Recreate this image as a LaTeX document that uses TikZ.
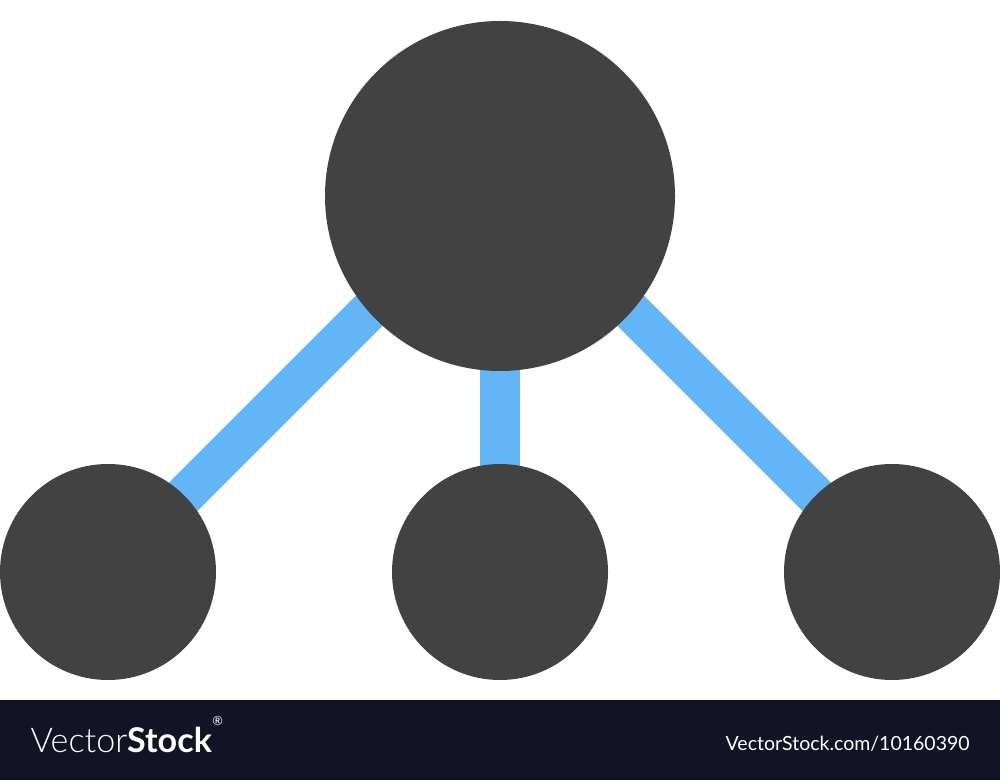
\documentclass[tikz,border=0pt]{standalone}
\usepackage{fontspec}
\setmainfont{Lato}
\definecolor{nodegray}{HTML}{424242}
\definecolor{linkblue}{HTML}{64B5F6}
\definecolor{bandnavy}{HTML}{121324}
\begin{document}
\begin{tikzpicture}[
  hub/.style={circle, fill=nodegray, minimum size=3.5cm, inner sep=0pt},
  leaf/.style={circle, fill=nodegray, minimum size=2.16cm, inner sep=0pt},
  link/.style={linkblue, line width=0.4cm},
  logo/.style={text=white, inner sep=0pt, anchor=base west}
]
\useasboundingbox (0,0) rectangle (10,7.8);
\fill[bandnavy] (0,0) rectangle (10,0.8);
\coordinate (hc) at (5.00,5.84);
\coordinate (lc) at (1.08,2.08);
\coordinate (mc) at (5.00,2.08);
\coordinate (rc) at (8.92,2.08);
\draw[link] (lc) -- ++(45:4.2) coordinate (le);
\draw[link] (rc) -- ++(135:4.2) coordinate (re);
\draw[link] (mc) -- (hc);
\node[hub] (top) at (hc) {};
\node[leaf] (l) at (lc) {};
\node[leaf] (m) at (mc) {};
\node[leaf] (r) at (rc) {};
\node[logo] (brand) at (0.30,0.28) {\fontsize{9.7pt}{10pt}\selectfont{\fontspec{Lato Light}Vector}\textbf{Stock}\hspace{0.1pt}\raisebox{0.78em}{\fontsize{3.6pt}{4pt}\selectfont\textregistered}};
\node[logo] (url) at (7.25,0.30) {\fontsize{5.55pt}{6pt}\selectfont VectorStock.com/10160390};
\end{tikzpicture}
\end{document}
